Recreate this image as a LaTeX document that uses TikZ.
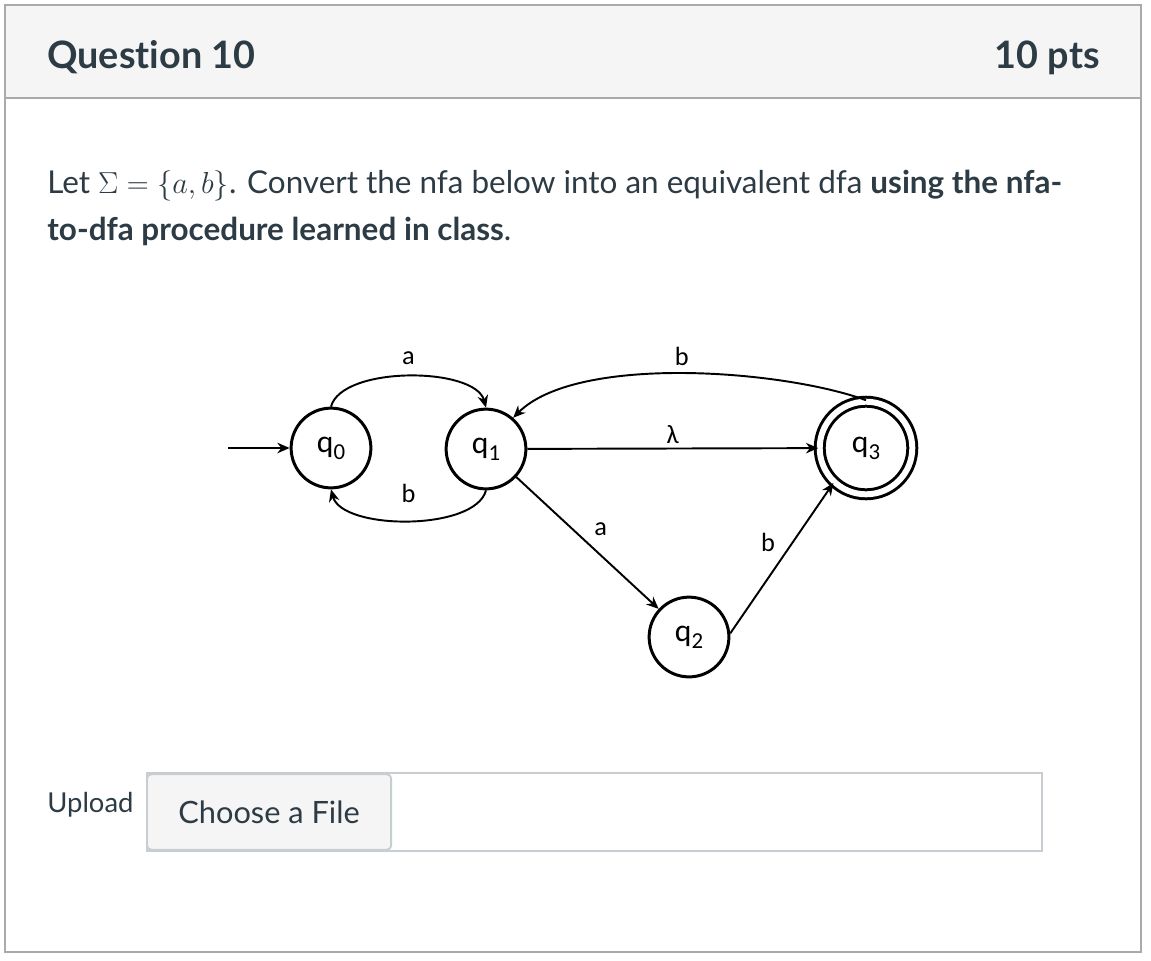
\documentclass[tikz,border=0pt]{standalone}
\usepackage{fontspec}
\setmainfont{Lato}[Ligatures=NoCommon]
\newfontfamily\dgfont{Carlito}
\usetikzlibrary{arrows.meta,positioning}
\definecolor{ink}{HTML}{2D3B45}
\definecolor{rim}{HTML}{AAAAAA}
\definecolor{band}{HTML}{F5F5F5}
\definecolor{field}{HTML}{C7CDD1}
\newcommand\qsub[1]{q\raisebox{-.45ex}{\fontsize{13}{13}\selectfont#1}}
\begin{document}
\begin{tikzpicture}[x=.02cm,y=.02cm,>={Stealth[length=7pt,width=6pt]},
 st/.style={circle,draw,line width=1.7pt,minimum size=45.4pt,inner sep=0pt,font=\dgfont\fontsize{18}{18}\selectfont},
 acc/.style={st,double,double distance=3.4pt,minimum size=52.7pt},
 ed/.style={->,line width=1.1pt},
 lab/.style={font=\dgfont\fontsize{15}{15}\selectfont,inner sep=2pt},
 txt/.style={text=ink,inner sep=0pt}]
\useasboundingbox (0,0) rectangle (1151,-960);
\draw[rim,line width=1.2pt,fill=white] (5,-5) rectangle (1141,-952);
\draw[rim,line width=1.2pt,fill=band] (5,-5) rectangle (1141,-98);
\node[txt,anchor=base west,font=\bfseries\fontsize{21.5}{21.5}\selectfont] (title) at (47,-68) {Question 10};
\node[txt,anchor=base east,font=\bfseries\fontsize{21.5}{21.5}\selectfont] (pts) at (1100,-68) {10 pts};
\node[txt,anchor=base west,font=\fontsize{17.9}{17.9}\selectfont] (l1) at (47,-193) {Let $\Sigma=\{a,b\}$. Convert the nfa below into an equivalent dfa \textbf{using the nfa-}};
\node[txt,anchor=base west,font=\fontsize{17.9}{17.9}\selectfont] (l2) at (47,-240) {\textbf{to-dfa procedure learned in class}.};
\node[st] (q0) at (331,-448) {\qsub0};
\node[st] (q1) at (486,-449) {\qsub1};
\node[st] (q2) at (689,-637) {\qsub2};
\node[acc] (q3) at (866,-448) {\qsub3};
\coordinate (start) at (228,-448);
\draw[ed] (start) -- (q0);
\draw[ed] (q0.north) to[out=75,in=105,looseness=.7] node[lab,above=4pt]{a} (q1.north);
\draw[ed] (q1.south) to[out=-105,in=-75,looseness=.7] node[lab,above=7.5pt]{b} (q0.south);
\draw[ed] (q1) -- node[lab,above]{λ} (q3);
\draw[ed] (q3.north) to[out=160,in=45,looseness=.65] node[lab,above=2pt]{b} (q1.49);
\draw[ed] (q1) -- node[lab,above right=2pt]{a} (q2);
\draw[ed] (q2.5) -- node[lab,above left=2pt]{b} (q3.227);
\node[txt,anchor=base west,font=\fontsize{15.6}{15.6}\selectfont] (up) at (47,-812) {Upload};
\node[draw=field,line width=1.1pt,minimum width=509.5pt,minimum height=44pt,anchor=west] (box) at (146,-812) {};
\node[draw=field,fill=band,line width=1.1pt,rounded corners=2.5pt,minimum width=139pt,minimum height=43pt,anchor=west,text=ink,font=\fontsize{17.5}{17.5}\selectfont] (btn) at (146,-812) {Choose a File};
\end{tikzpicture}
\end{document}
